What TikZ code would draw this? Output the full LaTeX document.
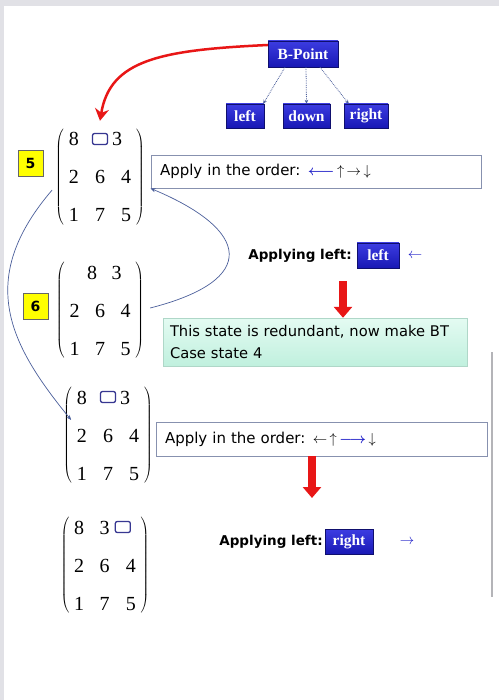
\documentclass[tikz,border=0pt]{standalone}
\usepackage{amsmath}
\usepackage{fontspec}
\setmainfont{DejaVu Sans}
\newfontfamily\serifbox{Liberation Serif}
\usetikzlibrary{matrix,positioning,arrows.meta}

\definecolor{bpblue}{RGB}{24,24,180}
\definecolor{bplight}{RGB}{60,60,225}
\definecolor{bpdark}{RGB}{15,15,110}
\definecolor{arrowblue}{RGB}{30,30,200}
\definecolor{cellblue}{RGB}{55,55,145}
\definecolor{linkblue}{RGB}{75,95,155}
\definecolor{framegray}{RGB}{135,145,175}
\definecolor{mintlight}{RGB}{228,251,242}
\definecolor{mintdark}{RGB}{192,240,222}
\definecolor{mintedge}{RGB}{175,215,200}
\definecolor{tagyellow}{RGB}{255,255,0}
\definecolor{arrowred}{RGB}{232,22,22}
\definecolor{pagegray}{RGB}{225,225,230}

\tikzset{
  bluebox/.style={draw=bpdark, top color=bplight, bottom color=bpblue, text=white,
    font=\serifbox\bfseries\fontsize{15.5}{16}\selectfont, inner sep=0pt, minimum height=25pt},
  orderbox/.style={draw=framegray, line width=0.8pt, minimum height=33pt, inner xsep=9pt,
    align=left, font=\fontsize{15}{18}\selectfont},
  notetext/.style={font=\bfseries\fontsize{13.5}{14}\selectfont},
  tagbox/.style={draw=black!60, fill=tagyellow, font=\bfseries\fontsize{14}{14}\selectfont,
    minimum width=25pt, minimum height=26pt, inner sep=0pt},
  state/.style={matrix of nodes, left delimiter=(, right delimiter=), inner xsep=1pt, inner ysep=5pt,
    column sep=10.5pt, row sep=24pt,
    every left delimiter/.style={xshift=5pt}, every right delimiter/.style={xshift=-5pt},
    nodes={font=\serifbox\fontsize{20}{20}\selectfont, inner sep=0pt, minimum width=15pt,
      text height=14pt, text depth=0pt, anchor=center}},
  hole/.style={draw=cellblue, line width=1.3pt, rounded corners=2pt, minimum width=15pt,
    minimum height=11pt, text height=0pt},
  link/.style={draw=linkblue, line width=0.7pt, -{Stealth[length=5pt,width=4pt]}},
  choice/.style={draw=linkblue, densely dotted, line width=0.8pt, -{Stealth[length=4pt,width=3.5pt]}},
  droparrow/.style={draw=arrowred, line width=8pt, -{Triangle[length=11pt,width=18pt]}},
  backarrow/.style={draw=arrowred, line width=2.5pt, -{Stealth[length=12pt,width=14pt]}}
}

\begin{document}
\begin{tikzpicture}[x=1pt, y=-1pt]
\useasboundingbox (0,0) rectangle (499,700);
\fill[white] (0,0) rectangle (499,700);
% page frame
\fill[pagegray] (0,0) rectangle (499,6);
\fill[pagegray] (0,0) rectangle (4,700);
\draw[line width=2pt, pagegray!80!black] (492,352) -- (492,597);

% B-Point
\node[bluebox, minimum width=70pt, minimum height=26pt] (bpoint) at (303,54) {B-Point};
\node[bluebox, minimum width=38pt, minimum height=24pt] (bleft) at (245,116) {left};
\node[bluebox, minimum width=47pt, minimum height=24pt] (bdown) at (306.5,116) {down};
\node[bluebox, minimum width=44pt, minimum height=24pt] (bright) at (366,116) {right};

\draw[choice] ([xshift=-18pt]bpoint.south) -- ([xshift=-1pt]bleft.north east);
\draw[choice] ([xshift=3pt]bpoint.south) -- (bdown.north);
\draw[choice] ([xshift=17pt]bpoint.south) -- ([xshift=5pt]bright.north west);

% States
\matrix[state] (m1) at (100,177) {
  8 & |[hole]| &[-9pt] |[xshift=-9pt]| 3 \\
  2 & 6 &[-9pt] 4 \\
  1 & 7 &[-9pt] 5 \\
};
\matrix[state] (m2) at (100,310) {
    &[-8pt] |[xshift=-8pt]| 8 &[-9pt] |[xshift=-9pt]| 3 \\
  2 &[-8pt] 6 &[-9pt] 4 \\
  1 &[-8pt] 7 &[-9pt] 5 \\
};
\matrix[state] (m3) at (108,435) {
  8 & |[hole]| &[-9pt] |[xshift=-9pt]| 3 \\
  2 & 6 &[-9pt] 4 \\
  1 & 7 &[-9pt] 5 \\
};
\matrix[state] (m4) at (105,565) {
  8 & 3 &[-8pt] |[hole, xshift=-8pt]| \\
  2 & 6 &[-8pt] 4 \\
  1 & 7 &[-8pt] 5 \\
};

% Tags
\node[tagbox] (tag5) at (30.5,163) {5};
\node[tagbox] (tag6) at (35.5,306.5) {6};

% Orders
\node[orderbox, text width=312pt] (apply1) at (316,171.5)
  {Apply in the order: \textcolor{arrowblue}{\boldmath$\longleftarrow$}\,$\uparrow\,\rightarrow\,\downarrow$};
\node[orderbox, text width=313pt, minimum height=34pt] (apply2) at (321.5,439)
  {Apply in the order: $\leftarrow\,\uparrow$\,\textcolor{arrowblue}{\boldmath$\longrightarrow$}\,$\downarrow$};

% Applying left
\node[notetext] (apl1) at (300,256) {Applying left:};
\node[bluebox, minimum width=42pt] (lefttag) at (378,255.5) {left};
\node[text=arrowblue, font=\fontsize{15}{15}\selectfont] (larr) at (415,256) {$\leftarrow$};

\node[draw=mintedge, top color=mintlight, bottom color=mintdark, text width=290pt, inner xsep=7pt,
  minimum height=48pt, align=left, font=\fontsize{14.7}{22}\selectfont] (redund) at (315,342)
  {This state is redundant, now make BT\\Case state 4};

\node[notetext] (apl2) at (271,542) {Applying left:};
\node[bluebox, minimum width=48pt] (righttag) at (349,542) {right};
\node[text=arrowblue, font=\fontsize{15}{15}\selectfont] (rarr) at (407,542) {$\rightarrow$};

% Connections
\draw[backarrow] ([yshift=9pt]bpoint.west) .. controls (160,50) and (110,60) .. ([yshift=6pt]m1.north);
\draw[link] ([xshift=-13pt,yshift=-13pt]m1.west) .. controls (-25,280) and (10,345) .. ([xshift=-2pt,yshift=15pt]m3.west);
\draw[link] ([xshift=16pt,yshift=2pt]m2.east) .. controls (260,280) and (250,230) .. (apply1.south west);

\coordinate (drop1) at (343,281);
\draw[droparrow] (drop1) -- (drop1 |- redund.north);
\coordinate (drop2) at (312,498);
\draw[droparrow] (apply2.south -| drop2) -- (drop2);

\end{tikzpicture}
\end{document}
